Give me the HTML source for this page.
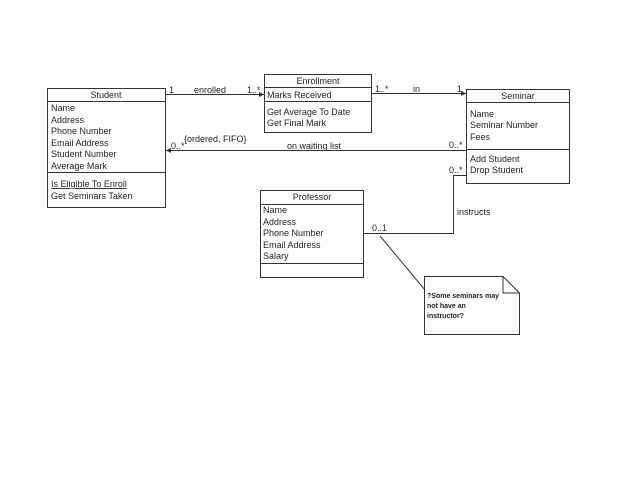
<!DOCTYPE html>
<html><head><style>
body{margin:0;background:#fff;}
svg text{font-family:"Liberation Sans",sans-serif;font-size:9px;fill:#222;}
</style></head><body>
<svg width="638" height="478" viewBox="0 0 638 478" xmlns="http://www.w3.org/2000/svg">
<g fill="none" stroke="#333" stroke-width="1">
<!-- Student -->
<rect x="47.5" y="88.5" width="118" height="119"/>
<line x1="47" y1="101.5" x2="166" y2="101.5"/>
<line x1="47" y1="172.5" x2="166" y2="172.5"/>
<!-- Enrollment -->
<rect x="264.5" y="74.5" width="107" height="58"/>
<line x1="264" y1="87.5" x2="372" y2="87.5"/>
<line x1="264" y1="101.5" x2="372" y2="101.5"/>
<!-- Seminar -->
<rect x="466.5" y="89.5" width="103" height="94"/>
<line x1="466" y1="102.5" x2="570" y2="102.5"/>
<line x1="466" y1="149.5" x2="570" y2="149.5"/>
<!-- Professor -->
<rect x="260.5" y="190.5" width="103" height="87"/>
<line x1="260" y1="204.5" x2="364" y2="204.5"/>
<line x1="260" y1="263.5" x2="364" y2="263.5"/>
<!-- connectors -->
<line x1="166" y1="94.5" x2="264" y2="94.5"/>
<line x1="372" y1="93.5" x2="466" y2="93.5"/>
<line x1="166" y1="150.5" x2="466" y2="150.5"/>
<polyline points="466,175.5 453.5,175.5 453.5,233.5 364,233.5"/>
<line x1="380" y1="236" x2="425" y2="290"/>
<!-- note -->
<path d="M424.5 276.5 H503 L519.5 293 V334.5 H424.5 Z"/>
<path d="M503 276.5 V293 H519.5"/>
</g>
<g fill="#333">
<path d="M264 94.5 l-5 -2.5 v5z"/>
<path d="M466 93.5 l-5 -2.5 v5z"/>
<path d="M166 150.5 l5 -2.5 v5z"/>
</g>
<text x="106" y="98" text-anchor="middle">Student</text>
<text x="51" y="111">Name</text>
<text x="51" y="123">Address</text>
<text x="51" y="134">Phone Number</text>
<text x="51" y="146">Email Address</text>
<text x="51" y="157">Student Number</text>
<text x="51" y="169">Average Mark</text>
<text x="51" y="187" text-decoration="underline">Is Eligible To Enroll</text>
<text x="51" y="199">Get Seminars Taken</text>
<text x="318" y="84" text-anchor="middle">Enrollment</text>
<text x="267" y="98">Marks Received</text>
<text x="267" y="115">Get Average To Date</text>
<text x="267" y="126">Get Final Mark</text>
<text x="518" y="99" text-anchor="middle">Seminar</text>
<text x="470" y="117">Name</text>
<text x="470" y="128">Seminar Number</text>
<text x="470" y="140">Fees</text>
<text x="470" y="162">Add Student</text>
<text x="470" y="173">Drop Student</text>
<text x="312" y="200" text-anchor="middle">Professor</text>
<text x="263" y="213">Name</text>
<text x="263" y="225">Address</text>
<text x="263" y="236">Phone Number</text>
<text x="263" y="248">Email Address</text>
<text x="263" y="259">Salary</text>
<text x="169" y="93">1</text>
<text x="194" y="93">enrolled</text>
<text x="247" y="93">1..*</text>
<text x="375" y="92">1..*</text>
<text x="413" y="92">in</text>
<text x="457" y="92">1</text>
<text x="171" y="149">0..*</text>
<text x="184" y="142">{ordered, FIFO}</text>
<text x="287" y="149">on waiting list</text>
<text x="449" y="148">0..*</text>
<text x="449" y="173">0..*</text>
<text x="457" y="215">instructs</text>
<text x="372" y="231">0..1</text>
<g style="font-size:7px;font-weight:bold">
<text x="427" y="298" style="font-size:7px;font-weight:bold">?Some seminars may</text>
<text x="427" y="308" style="font-size:7px;font-weight:bold">not have an</text>
<text x="427" y="318" style="font-size:7px;font-weight:bold">instructor?</text>
</g>
</svg>
</body></html>
